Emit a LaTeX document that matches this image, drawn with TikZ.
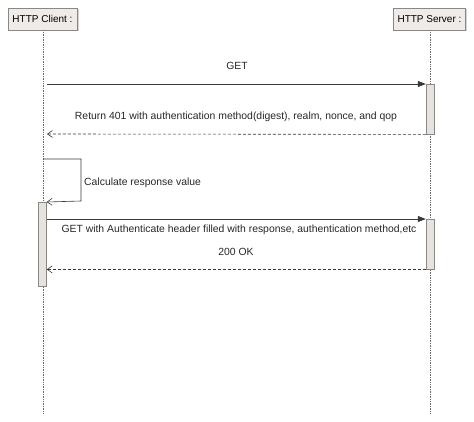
\documentclass[tikz,border=0pt]{standalone}
\usepackage{fontspec}
\setmainfont{Liberation Sans}
\usetikzlibrary{arrows.meta,shadows}
\definecolor{boxfill}{HTML}{EEEBE8}
\definecolor{boxline}{HTML}{8A8784}
\definecolor{actfill}{HTML}{E6E2DE}
\definecolor{lifeline}{HTML}{6A6A6A}
\definecolor{msgline}{HTML}{383838}
\tikzset{
  x=1pt,y=-1pt,
  actor/.style={draw=boxline,fill=boxfill,minimum height=22pt,inner sep=1pt,font=\fontsize{10}{12}\selectfont,drop shadow={shadow xshift=1.5pt,shadow yshift=-1.5pt,opacity=0.35}},
  act/.style={draw=boxline,fill=actfill,minimum width=8pt,inner sep=0pt},
  life/.style={draw=lifeline,densely dotted,line width=0.7pt},
  call/.style={draw=msgline,line width=0.7pt,-{Triangle[length=8pt,width=6pt]}},
  reply/.style={draw=msgline,line width=0.6pt,densely dashed,-{Straight Barb[length=5pt,width=7pt]}},
  selfmsg/.style={draw=msgline,line width=0.6pt,-{Straight Barb[length=5pt,width=7pt]}},
  lbl/.style={font=\fontsize{10.4}{12}\selectfont,text=black!85,inner sep=0pt}
}
\begin{document}
\begin{tikzpicture}
\useasboundingbox (0,0) rectangle (474,422);
% actors
\node[actor,minimum width=69pt] (client) at (42.5,19) {HTTP Client :};
\node[actor,minimum width=72pt] (server) at (429.5,19) {HTTP Server :};
\coordinate (cend) at (43,414);
\coordinate (send) at (430,414);
\draw[life] (client.south -| cend) -- (cend);
\draw[life] (server.south -| send) -- (send);
% activations
\node[act,minimum height=50pt,anchor=north] (sa1) at (430,84) {};
\node[act,minimum height=84pt,anchor=north] (ca1) at (42.5,202) {};
\node[act,minimum height=50pt,anchor=north] (sa2) at (430,219) {};
% message 1
\coordinate (m1s) at (47,84);
\draw[call] (m1s) -- (sa1.north west);
\node[lbl] (l1) at (237,66) {GET};
% return 1
\coordinate (r1e) at (47,134);
\draw[reply] (sa1.south west) -- (r1e);
\node[lbl] (l2) at (236,117) {Return 401 with authentication method(digest), realm, nonce, and qop};
% self message
\coordinate (s1) at (43,159);
\coordinate (s2) at (81,159);
\coordinate (s3) at (81,201);
\draw[selfmsg] (s1) -- (s2) -- (s3) -- (ca1.north east);
\node[lbl,anchor=west] (l3) at (84,183) {Calculate response value};
% message 2
\draw[call] (ca1.east |- sa2.north west) -- (sa2.north west);
\node[lbl] (l4) at (239,230) {GET with Authenticate header filled with response, authentication method,etc};
% return 2
\draw[reply] (sa2.south west) -- (ca1.east |- sa2.south west);
\node[lbl] (l5) at (236,252) {200 OK};
\end{tikzpicture}
\end{document}
